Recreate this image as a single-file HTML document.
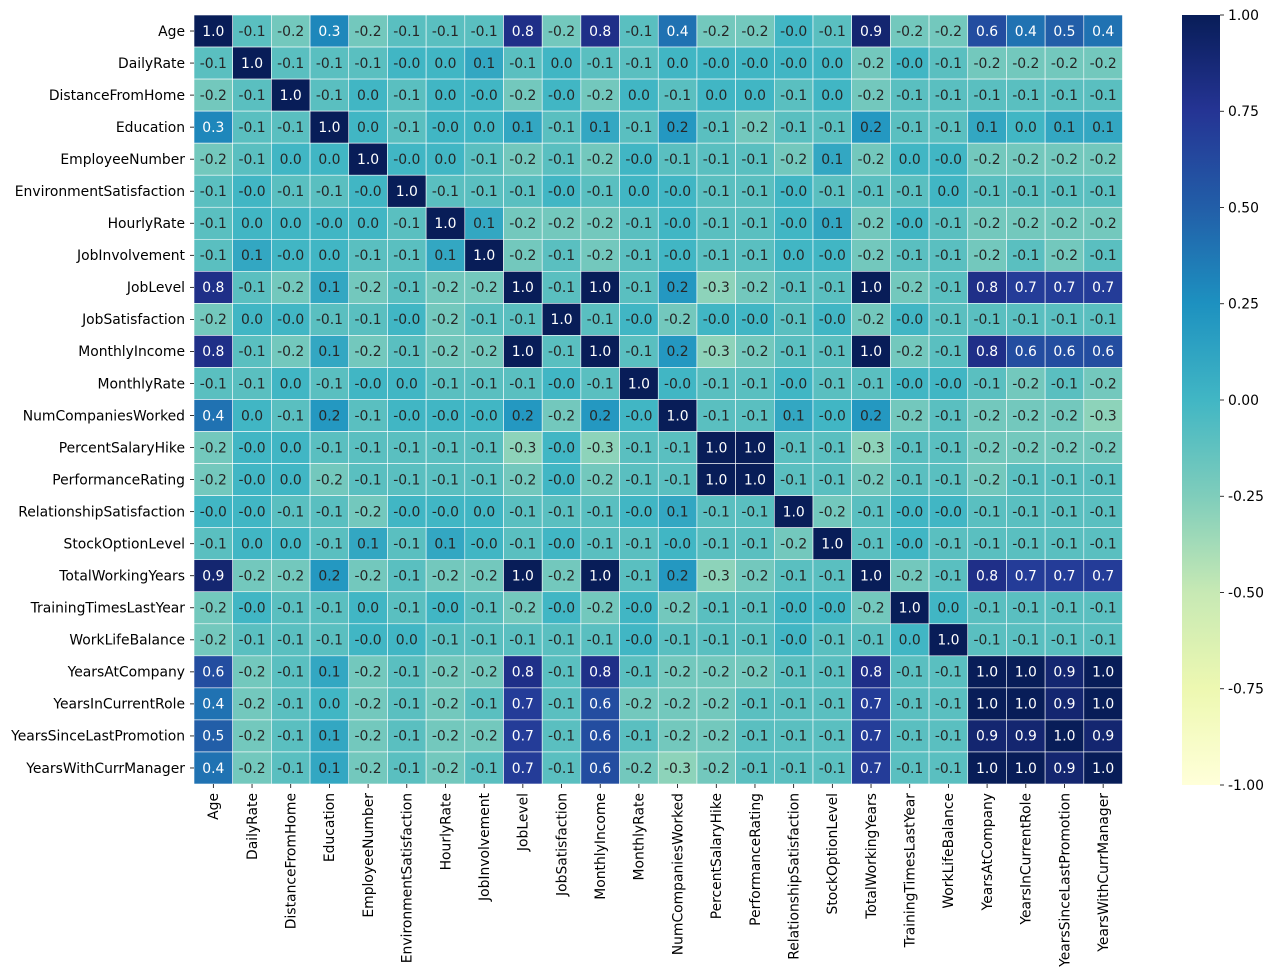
<!DOCTYPE html>
<html><head><meta charset="utf-8">
<style>
html,body{margin:0;padding:0;background:#fff;}
svg{display:block;font-family:"DejaVu Sans","Liberation Sans",sans-serif;}
</style></head>
<body>
<svg id="chart" width="1282" height="978" xmlns="http://www.w3.org/2000/svg"></svg>
<script>
const labels = ["Age","DailyRate","DistanceFromHome","Education","EmployeeNumber","EnvironmentSatisfaction","HourlyRate","JobInvolvement","JobLevel","JobSatisfaction","MonthlyIncome","MonthlyRate","NumCompaniesWorked","PercentSalaryHike","PerformanceRating","RelationshipSatisfaction","StockOptionLevel","TotalWorkingYears","TrainingTimesLastYear","WorkLifeBalance","YearsAtCompany","YearsInCurrentRole","YearsSinceLastPromotion","YearsWithCurrManager"];
const matrix = [
[1.0,-0.1,-0.2,0.3,-0.2,-0.1,-0.1,-0.1,0.8,-0.2,0.8,-0.1,0.4,-0.2,-0.2,-0.0,-0.1,0.9,-0.2,-0.2,0.6,0.4,0.5,0.4],
[-0.1,1.0,-0.1,-0.1,-0.1,-0.0,0.0,0.1,-0.1,0.0,-0.1,-0.1,0.0,-0.0,-0.0,-0.0,0.0,-0.2,-0.0,-0.1,-0.2,-0.2,-0.2,-0.2],
[-0.2,-0.1,1.0,-0.1,0.0,-0.1,0.0,-0.0,-0.2,-0.0,-0.2,0.0,-0.1,0.0,0.0,-0.1,0.0,-0.2,-0.1,-0.1,-0.1,-0.1,-0.1,-0.1],
[0.3,-0.1,-0.1,1.0,0.0,-0.1,-0.0,0.0,0.1,-0.1,0.1,-0.1,0.2,-0.1,-0.2,-0.1,-0.1,0.2,-0.1,-0.1,0.1,0.0,0.1,0.1],
[-0.2,-0.1,0.0,0.0,1.0,-0.0,0.0,-0.1,-0.2,-0.1,-0.2,-0.0,-0.1,-0.1,-0.1,-0.2,0.1,-0.2,0.0,-0.0,-0.2,-0.2,-0.2,-0.2],
[-0.1,-0.0,-0.1,-0.1,-0.0,1.0,-0.1,-0.1,-0.1,-0.0,-0.1,0.0,-0.0,-0.1,-0.1,-0.0,-0.1,-0.1,-0.1,0.0,-0.1,-0.1,-0.1,-0.1],
[-0.1,0.0,0.0,-0.0,0.0,-0.1,1.0,0.1,-0.2,-0.2,-0.2,-0.1,-0.0,-0.1,-0.1,-0.0,0.1,-0.2,-0.0,-0.1,-0.2,-0.2,-0.2,-0.2],
[-0.1,0.1,-0.0,0.0,-0.1,-0.1,0.1,1.0,-0.2,-0.1,-0.2,-0.1,-0.0,-0.1,-0.1,0.0,-0.0,-0.2,-0.1,-0.1,-0.2,-0.1,-0.2,-0.1],
[0.8,-0.1,-0.2,0.1,-0.2,-0.1,-0.2,-0.2,1.0,-0.1,1.0,-0.1,0.2,-0.3,-0.2,-0.1,-0.1,1.0,-0.2,-0.1,0.8,0.7,0.7,0.7],
[-0.2,0.0,-0.0,-0.1,-0.1,-0.0,-0.2,-0.1,-0.1,1.0,-0.1,-0.0,-0.2,-0.0,-0.0,-0.1,-0.0,-0.2,-0.0,-0.1,-0.1,-0.1,-0.1,-0.1],
[0.8,-0.1,-0.2,0.1,-0.2,-0.1,-0.2,-0.2,1.0,-0.1,1.0,-0.1,0.2,-0.3,-0.2,-0.1,-0.1,1.0,-0.2,-0.1,0.8,0.6,0.6,0.6],
[-0.1,-0.1,0.0,-0.1,-0.0,0.0,-0.1,-0.1,-0.1,-0.0,-0.1,1.0,-0.0,-0.1,-0.1,-0.0,-0.1,-0.1,-0.0,-0.0,-0.1,-0.2,-0.1,-0.2],
[0.4,0.0,-0.1,0.2,-0.1,-0.0,-0.0,-0.0,0.2,-0.2,0.2,-0.0,1.0,-0.1,-0.1,0.1,-0.0,0.2,-0.2,-0.1,-0.2,-0.2,-0.2,-0.3],
[-0.2,-0.0,0.0,-0.1,-0.1,-0.1,-0.1,-0.1,-0.3,-0.0,-0.3,-0.1,-0.1,1.0,1.0,-0.1,-0.1,-0.3,-0.1,-0.1,-0.2,-0.2,-0.2,-0.2],
[-0.2,-0.0,0.0,-0.2,-0.1,-0.1,-0.1,-0.1,-0.2,-0.0,-0.2,-0.1,-0.1,1.0,1.0,-0.1,-0.1,-0.2,-0.1,-0.1,-0.2,-0.1,-0.1,-0.1],
[-0.0,-0.0,-0.1,-0.1,-0.2,-0.0,-0.0,0.0,-0.1,-0.1,-0.1,-0.0,0.1,-0.1,-0.1,1.0,-0.2,-0.1,-0.0,-0.0,-0.1,-0.1,-0.1,-0.1],
[-0.1,0.0,0.0,-0.1,0.1,-0.1,0.1,-0.0,-0.1,-0.0,-0.1,-0.1,-0.0,-0.1,-0.1,-0.2,1.0,-0.1,-0.0,-0.1,-0.1,-0.1,-0.1,-0.1],
[0.9,-0.2,-0.2,0.2,-0.2,-0.1,-0.2,-0.2,1.0,-0.2,1.0,-0.1,0.2,-0.3,-0.2,-0.1,-0.1,1.0,-0.2,-0.1,0.8,0.7,0.7,0.7],
[-0.2,-0.0,-0.1,-0.1,0.0,-0.1,-0.0,-0.1,-0.2,-0.0,-0.2,-0.0,-0.2,-0.1,-0.1,-0.0,-0.0,-0.2,1.0,0.0,-0.1,-0.1,-0.1,-0.1],
[-0.2,-0.1,-0.1,-0.1,-0.0,0.0,-0.1,-0.1,-0.1,-0.1,-0.1,-0.0,-0.1,-0.1,-0.1,-0.0,-0.1,-0.1,0.0,1.0,-0.1,-0.1,-0.1,-0.1],
[0.6,-0.2,-0.1,0.1,-0.2,-0.1,-0.2,-0.2,0.8,-0.1,0.8,-0.1,-0.2,-0.2,-0.2,-0.1,-0.1,0.8,-0.1,-0.1,1.0,1.0,0.9,1.0],
[0.4,-0.2,-0.1,0.0,-0.2,-0.1,-0.2,-0.1,0.7,-0.1,0.6,-0.2,-0.2,-0.2,-0.1,-0.1,-0.1,0.7,-0.1,-0.1,1.0,1.0,0.9,1.0],
[0.5,-0.2,-0.1,0.1,-0.2,-0.1,-0.2,-0.2,0.7,-0.1,0.6,-0.1,-0.2,-0.2,-0.1,-0.1,-0.1,0.7,-0.1,-0.1,0.9,0.9,1.0,0.9],
[0.4,-0.2,-0.1,0.1,-0.2,-0.1,-0.2,-0.1,0.7,-0.1,0.6,-0.2,-0.3,-0.2,-0.1,-0.1,-0.1,0.7,-0.1,-0.1,1.0,1.0,0.9,1.0]
];
const cbTicks = [1.0,0.75,0.5,0.25,0.0,-0.25,-0.5,-0.75,-1.0];

const NS="http://www.w3.org/2000/svg";
const svg=document.getElementById('chart');
const FS='13.9';
const L=194, R=1122.5, T=15, B=784;
const n=labels.length, cw=(R-L)/n, ch=(B-T)/n;
const xs=i=>L+i*cw, ys=j=>T+j*ch;
const CB={x:1182,w:38,t:15,b:785};
const cbY=v=>CB.t+(1-v)/2*(CB.b-CB.t);
const stops=["#ffffd9","#edf8b1","#c7e9b4","#7fcdbb","#41b6c4","#1d91c0","#225ea8","#253494","#081d58"];
function hex(h){return [1,3,5].map(i=>parseInt(h.substr(i,2),16));}
function cmap(v){let t=(v+1)/2*(stops.length-1);t=Math.max(0,Math.min(stops.length-1,t));
 const i=Math.min(Math.floor(t),stops.length-2),f=t-i;const a=hex(stops[i]),b=hex(stops[i+1]);
 return 'rgb('+a.map((c,k)=>Math.round(c+(b[k]-c)*f)).join(',')+')';}
function mk(tag,attrs){const e=document.createElementNS(NS,tag);for(const k in attrs)e.setAttribute(k,attrs[k]);return e;}
function fmt(v){if(v===0)return (1/v<0)?"-0.0":"0.0";return v.toFixed(1);}

const gCells=mk('g',{});


svg.appendChild(gCells);
matrix.forEach((row,j)=>row.forEach((v,i)=>{
  const r=mk('rect',{x:xs(i),y:ys(j),width:cw,height:ch,fill:cmap(v),stroke:'#fff','stroke-width':0.6});
  
  
  gCells.appendChild(r);
  const t=mk('text',{x:xs(i)+cw/2,y:ys(j)+ch/2+4.8,'text-anchor':'middle','font-size':FS,fill:v>=0.25?'#fff':'#262626'});
  t.textContent=fmt(v);
  
  
  gCells.appendChild(t);
}));
labels.forEach((lab,j)=>{
  svg.appendChild(mk('line',{x1:L-4,x2:L,y1:ys(j)+ch/2,y2:ys(j)+ch/2,stroke:'#000','stroke-width':0.8}));
  const t=mk('text',{x:L-9,y:ys(j)+ch/2+4.8,'text-anchor':'end','font-size':FS,fill:'#000'});
  t.textContent=lab;
  
  
  svg.appendChild(t);
});
labels.forEach((lab,i)=>{
  const x=xs(i)+cw/2;
  svg.appendChild(mk('line',{x1:x,x2:x,y1:B,y2:B+4,stroke:'#000','stroke-width':0.8}));
  const t=mk('text',{x:0,y:0,'text-anchor':'end','font-size':FS,fill:'#000',transform:'translate('+(x+4.8)+','+(B+9)+') rotate(-90)'});
  t.textContent=lab;
  
  
  svg.appendChild(t);
});
const defs=mk('defs',{});svg.appendChild(defs);
const lg=mk('linearGradient',{id:'cbg',x1:0,y1:1,x2:0,y2:0});
stops.forEach((s,k)=>lg.appendChild(mk('stop',{offset:k/(stops.length-1),'stop-color':s})));
defs.appendChild(lg);
const cb=mk('rect',{x:CB.x,y:CB.t,width:CB.w,height:CB.b-CB.t,fill:'url(#cbg)'});


svg.appendChild(cb);
cbTicks.forEach(v=>{
  const y=cbY(v);
  svg.appendChild(mk('line',{x1:CB.x+CB.w,x2:CB.x+CB.w+4,y1:y,y2:y,stroke:'#000','stroke-width':0.8}));
  const t=mk('text',{x:CB.x+CB.w+8,y:y+4.8,'font-size':FS,fill:'#000'});
  t.textContent=v.toFixed(2);
  
  
  svg.appendChild(t);
});
</script>
</body></html>
